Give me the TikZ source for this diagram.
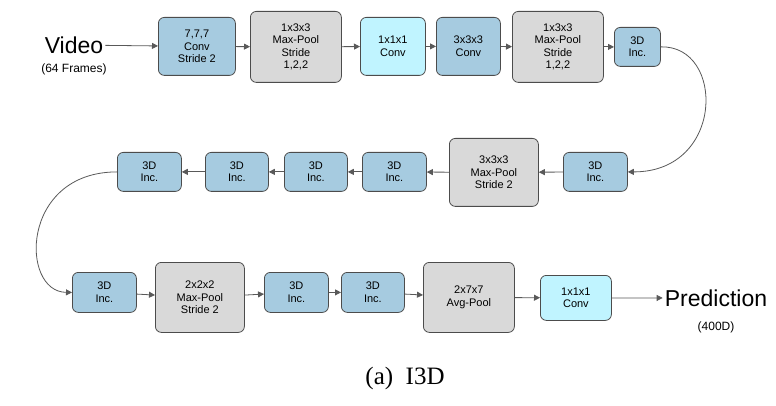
\documentclass[tikz,border=0pt]{standalone}
\usepackage{fontspec}
\setmainfont{Liberation Serif}
\newfontfamily\sansf{Liberation Sans}
\usetikzlibrary{arrows.meta}
\definecolor{incblue}{HTML}{A6CBE0}
\definecolor{poolgray}{HTML}{D9D9D9}
\definecolor{convcyan}{HTML}{C0F4FF}
\tikzset{
  blk/.style={draw=black!70, thick, rounded corners=6pt, align=center, font=\sansf\fontsize{11}{12.5}\selectfont, inner sep=1pt, anchor=north west},
  inc/.style={blk, fill=incblue},
  pool/.style={blk, fill=poolgray},
  cyc/.style={blk, fill=convcyan},
  arr/.style={draw=black!65, thick, -{Triangle[length=6pt,width=6pt]}},
  big/.style={font=\sansf\fontsize{23}{26}\selectfont, inner sep=2pt},
  small/.style={font=\sansf\fontsize{12}{14}\selectfont}
}
\begin{document}
\begin{tikzpicture}[x=1pt, y=-1pt]
        \useasboundingbox (0,0) rectangle (776,406);

        % first row
        \node[big] (video) at (74,45) {Video};
        \node[small] at (74,69) {(64 Frames)};
        \node[inc, minimum width=77pt, minimum height=58pt] (c1) at (158,17) {7,7,7\\Conv\\Stride 2};
        \node[pool, minimum width=91pt, minimum height=71pt] (p1) at (250,11) {1x3x3\\Max-Pool\\Stride\\1,2,2};
        \node[cyc, minimum width=65pt, minimum height=58pt] (c2) at (360,17) {1x1x1\\Conv};
        \node[inc, minimum width=64pt, minimum height=58pt] (c3) at (436,17) {3x3x3\\Conv};
        \node[pool, minimum width=91pt, minimum height=71pt] (p2) at (512,11) {1x3x3\\Max-Pool\\Stride\\1,2,2};
        \node[inc, minimum width=46pt, minimum height=39pt] (i1) at (614,27) {3D\\Inc.};

        % second row
        \node[inc, minimum width=64pt, minimum height=39pt] (i2) at (563,152) {3D\\Inc.};
        \node[pool, minimum width=89pt, minimum height=68pt] (p3) at (449,138) {3x3x3\\Max-Pool\\Stride 2};
        \node[inc, minimum width=64pt, minimum height=39pt] (i3) at (362,152) {3D\\Inc.};
        \node[inc, minimum width=63pt, minimum height=39pt] (i4) at (284,152) {3D\\Inc.};
        \node[inc, minimum width=63pt, minimum height=39pt] (i5) at (205,152) {3D\\Inc.};
        \node[inc, minimum width=64pt, minimum height=39pt] (i6) at (117,152) {3D\\Inc.};

        % third row
        \node[inc, minimum width=64pt, minimum height=40pt] (i7) at (72,272) {3D\\Inc.};
        \node[pool, minimum width=89pt, minimum height=70pt] (p4) at (155,262) {2x2x2\\Max-Pool\\Stride 2};
        \node[inc, minimum width=64pt, minimum height=40pt] (i8) at (264,272) {3D\\Inc.};
        \node[inc, minimum width=63pt, minimum height=40pt] (i9) at (341,272) {3D\\Inc.};
        \node[pool, minimum width=91pt, minimum height=70pt] (p5) at (423,262) {2x7x7\\Avg-Pool};
        \node[cyc, minimum width=71pt, minimum height=45pt] (c4) at (540,275) {1x1x1\\Conv};
        \node[big] (pred) at (716,298) {Prediction};
        \node[small] at (716,327) {(400D)};
        \node[font=\fontsize{25}{28}\selectfont] at (405,378) {(a)\ \ I3D};

        \draw[arr] (video) -- (c1);
        \draw[arr] (c1) -- (p1);
        \draw[arr] (p1) -- (c2);
        \draw[arr] (c2) -- (c3);
        \draw[arr] (c3) -- (p2);
        \draw[arr] (p2) -- (i1);
        \draw[arr] (i1.east) .. controls (725,45) and (725,172) .. (i2.east);
        \draw[arr] (i2) -- (p3);
        \draw[arr] (p3) -- (i3);
        \draw[arr] (i3) -- (i4);
        \draw[arr] (i4) -- (i5);
        \draw[arr] (i5) -- (i6);
        \draw[arr] (i6.west) .. controls (20,172) and (20,292) .. (i7.west);
        \draw[arr] (i7) -- (p4);
        \draw[arr] (p4) -- (i8);
        \draw[arr] (i8) -- (i9);
        \draw[arr] (i9) -- (p5);
        \draw[arr] (p5) -- (c4);
        \draw[arr] (c4) -- (pred);
    \end{tikzpicture}
\end{document}
